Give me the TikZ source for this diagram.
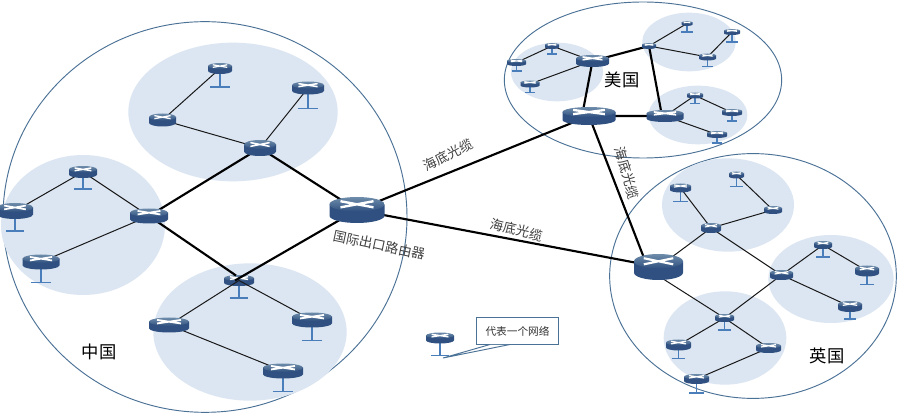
\documentclass[tikz,border=0pt]{standalone}
\usepackage{fontspec}
\usetikzlibrary{calc}
\newfontfamily\cjk{Noto Sans CJK SC}
\definecolor{blob}{HTML}{DCE6F2}
\definecolor{ring}{HTML}{4A7196}
\definecolor{rtop}{HTML}{6E8CAA}
\definecolor{rbody}{HTML}{2F5080}
\definecolor{stemc}{HTML}{4A7EBB}
\tikzset{
 x=0.75pt,y=-0.75pt,
 blobfill/.style={fill=blob,draw=none},
 ringline/.style={draw=ring,line width=0.7pt},
 thick link/.style={draw=black,line width=1.6pt},
 thin link/.style={draw=black!90,line width=0.75pt},
 lbl/.style={font=\cjk\fontsize{10}{10}\selectfont,text=black!75,inner sep=0pt},
 bigl/.style={font=\cjk\fontsize{13}{13}\selectfont,inner sep=0pt},
 hub/.style={inner sep=0pt,outer sep=0pt,minimum size=0pt},
}
% \router{node}{w}{h}{visible stem}
\newcommand{\router}[4]{%
 \begin{scope}[shift={(#1)}]
 \pgfmathsetmacro{\rw}{#2/2}\pgfmathsetmacro{\rh}{#3*0.28}\pgfmathsetmacro{\rd}{#3*0.22}
 \pgfmathsetmacro{\rx}{\rw*0.6}\pgfmathsetmacro{\ry}{\rh*0.42}
 \pgfmathsetmacro{\xw}{#2*0.028+0.25}
 \ifnum#4>0
  \pgfmathsetmacro{\by}{#3/2+#4}\pgfmathsetmacro{\bw}{#4*0.6+2}
  \draw[stemc,line width=1.4pt] (0,0) -- (0,\by);
  \draw[stemc,line width=1.4pt] (-\bw,\by) -- (\bw,\by);
 \fi
 \fill[rbody] (-\rw,-\rd) -- (-\rw,\rd) arc[start angle=180,end angle=360,x radius=\rw*0.75pt,y radius=\rh*0.75pt] -- (\rw,-\rd) -- cycle;
 \shade[top color=rtop,bottom color=rbody] (0,-\rd) ellipse[x radius=\rw*0.75pt,y radius=\rh*0.75pt];
 \draw[white,line width=\xw pt] (-\rx,-\rd-\ry) -- (\rx,-\rd+\ry) (-\rx,-\rd+\ry) -- (\rx,-\rd-\ry);
 \end{scope}
}
\begin{document}
\begin{tikzpicture}
\useasboundingbox (0,0) rectangle (904,416);
\fill[white] (0,0) rectangle (904,416);
% rings
\draw[ringline] (205,217) ellipse[x radius=151.5pt,y radius=146.5pt];
\draw[ringline] (643,80) ellipse[x radius=104pt,y radius=58.5pt];
\draw[ringline] (753,276) ellipse[x radius=107.5pt,y radius=91.8pt];
% blobs
\fill[blobfill] (233,112) ellipse[x radius=78.5pt,y radius=52pt];
\fill[blobfill] (83,225) ellipse[x radius=61.5pt,y radius=52.5pt];
\fill[blobfill] (250,332) ellipse[x radius=72.5pt,y radius=51.5pt];
\fill[blobfill] (557,72) ellipse[x radius=34.5pt,y radius=22pt];
\fill[blobfill] (689,42) ellipse[x radius=35pt,y radius=22pt];
\fill[blobfill] (698,115) ellipse[x radius=37pt,y radius=22pt];
\fill[blobfill] (728,205) ellipse[x radius=49.5pt,y radius=35pt];
\fill[blobfill] (831,279) ellipse[x radius=47pt,y radius=33pt];
\fill[blobfill] (725,338) ellipse[x radius=46pt,y radius=35pt];
% router positions
\path
 (357,210) node[hub] (gw) {}
 (589,116) node[hub] (us) {}
 (658.5,267) node[hub] (uk) {}
 (260,148) node[hub] (c1) {}
 (149,216) node[hub] (c2) {}
 (239,280.5) node[hub] (c3) {}
 (220,68.5) node[hub] (c1a) {}
 (162.5,120) node[hub] (c1b) {}
 (308,88) node[hub] (c1c) {}
 (83,172) node[hub] (c2a) {}
 (15,211) node[hub] (c2b) {}
 (41,262) node[hub] (c2c) {}
 (169,325) node[hub] (c3a) {}
 (312,320) node[hub] (c3b) {}
 (283,371) node[hub] (c3c) {}
 (592.5,61) node[hub] (u1) {}
 (552,46) node[hub] (u1a) {}
 (516.5,62.5) node[hub] (u1b) {}
 (530,84) node[hub] (u1c) {}
 (649,46) node[hub] (u2) {}
 (687,23.5) node[hub] (u2a) {}
 (732,32) node[hub] (u2b) {}
 (707.5,57) node[hub] (u2c) {}
 (665,116) node[hub] (u3) {}
 (695,95.5) node[hub] (u3a) {}
 (732,112.5) node[hub] (u3b) {}
 (717,134.5) node[hub] (u3c) {}
 (711,228) node[hub] (e1) {}
 (680.5,188) node[hub] (e1a) {}
 (736.5,175) node[hub] (e1b) {}
 (773,210) node[hub] (e1c) {}
 (781.5,275) node[hub] (e2) {}
 (823,245) node[hub] (e2a) {}
 (867,271) node[hub] (e2b) {}
 (850,306.5) node[hub] (e2c) {}
 (724.5,318) node[hub] (e3) {}
 (678.5,345) node[hub] (e3a) {}
 (768.5,348) node[hub] (e3b) {}
 (696.5,379) node[hub] (e3c) {}
 (440,338) node[hub] (key) {};
\router{c3}{30}{11}{12}
% thick links
\draw[thick link] (gw) -- (c1) (gw) -- ($(c3)+(-4,0)$) (c1) -- (c2) (c2) -- ($(c3)+(-3,-5)$) (gw) -- (us) (gw) -- (uk) (us) -- ($(uk)+(-11,0)$);
\draw[thick link] ($(us)+(-7,0)$) -- (u1) (us) -- (u3) (u1) -- (u2) (u2) -- ($(u3)+(-3,0)$);
% thin links
\draw[thin link] (c1) -- (c1b) (c1) -- (c1c) (c1b) -- (c1a)
 (c2) -- (c2a) (c2) -- (c2c) (c2a) -- (c2b)
 (c3) -- (c3a) (c3) -- (c3b) (c3a) -- (c3c)
 (u1) -- (u1a) (u1) -- (u1c) (u1a) -- (u1b)
 (u2) -- (u2a) (u2) -- (u2c) (u2c) -- (u2b)
 (u3) -- (u3a) (u3) -- (u3c) (u3a) -- (u3b)
 (uk) -- (e1) ($(uk)+(0,9)$) -- (e3) (e1) -- (e2) (e3) -- (e2)
 (e1) -- (e1a) (e1) -- (e1c) (e1c) -- (e1b)
 (e2) -- (e2a) (e2) -- (e2c) (e2a) -- (e2b)
 (e3) -- (e3a) (e3) -- (e3b) (e3b) -- (e3c);
% routers
\router{gw}{55}{26}{0}
\router{us}{53}{18}{0}
\router{uk}{49}{26}{0}
\router{c1}{32}{16}{0}
\router{c2}{38}{15}{0}
\router{c1a}{24}{11}{13}
\router{c1b}{27}{13}{0}
\router{c1c}{32}{13}{14}
\router{c2a}{28}{12}{11}
\router{c2b}{36}{16}{12}
\router{c2c}{37}{15}{13}
\router{c3a}{40}{15}{0}
\router{c3b}{40}{15}{13}
\router{c3c}{40}{15}{13}
\router{u1}{33}{12}{0}
\router{u1a}{14}{6}{5}
\router{u1b}{19}{7}{5}
\router{u1c}{19}{7}{5}
\router{u2}{14}{6}{0}
\router{u2a}{11}{5}{6}
\router{u2b}{16}{6}{7}
\router{u2c}{17}{7}{6}
\router{u3}{37}{12}{0}
\router{u3a}{16}{6}{5}
\router{u3b}{20}{7}{5}
\router{u3c}{20}{7}{5}
\router{e1}{20}{10}{0}
\router{e1a}{21}{9}{9}
\router{e1b}{15}{7}{8}
\router{e1c}{18}{8}{0}
\router{e2}{23}{10}{0}
\router{e2a}{18}{8}{8}
\router{e2b}{24}{11}{8}
\router{e2c}{24}{11}{7}
\router{e3}{19}{8}{8}
\router{e3a}{25}{11}{8}
\router{e3b}{25}{10}{0}
\router{e3c}{25}{10}{9}
\router{key}{28}{11}{12}
% callout
\node[draw=ring,fill=white,line width=0.8pt,minimum width=61pt,minimum height=20pt,inner sep=0pt,font=\cjk\fontsize{8}{8}\selectfont,text=black!80] (note) at (517.5,331) {代表一个网络};
\coordinate (tip) at (443,358);
\fill[white] (tip) -- (490,345) -- (510,345) -- cycle;
\draw[ring,line width=0.7pt] (490,344.5) -- (tip) -- (510,344.5);
% labels
\node[lbl,rotate=-12] (t1) at (379,245) {国际出口路由器};
\node[lbl,rotate=27] (t2) at (448,155) {海底光缆};
\node[lbl,rotate=-14] (t3) at (517,230) {海底光缆};
\node[lbl,rotate=-74] (t4) at (627,173) {海底光缆};
\node[bigl] (t5) at (99,352) {中国};
\node[bigl] (t6) at (622,80) {美国};
\node[bigl] (t7) at (827,356) {英国};
\end{tikzpicture}
\end{document}
